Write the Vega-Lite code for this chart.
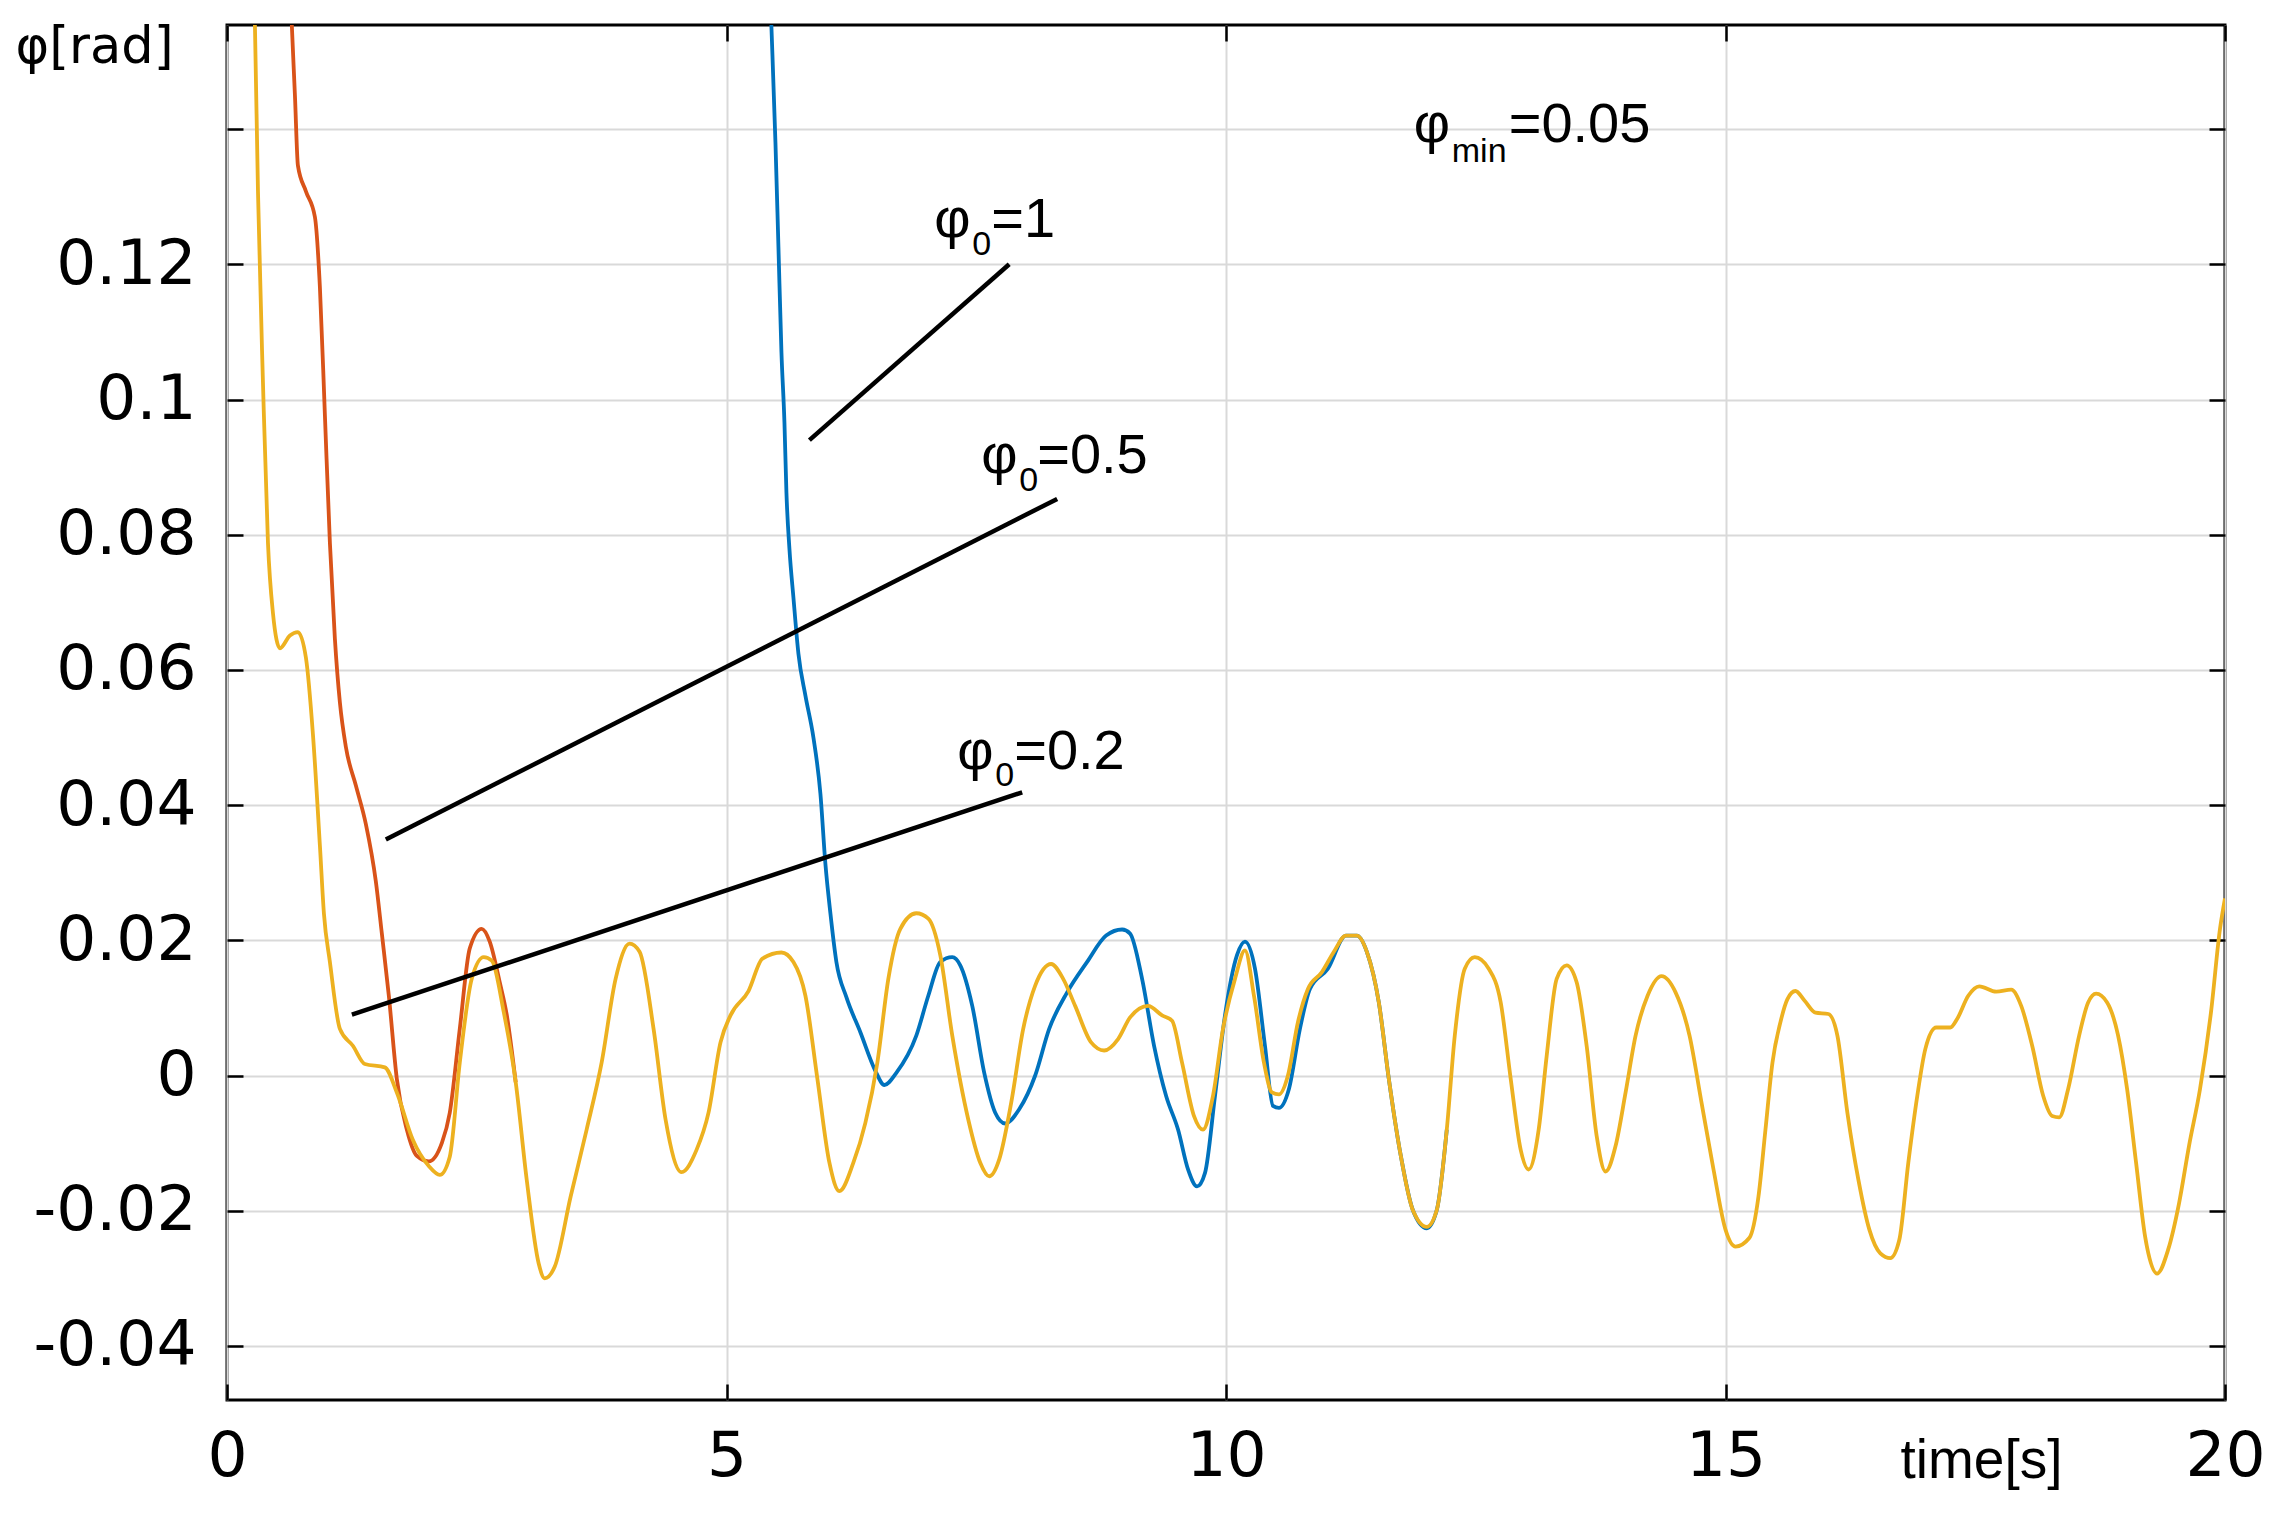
{
  "$schema": "https://vega.github.io/schema/vega-lite/v6.json",
  "width": 1998,
  "height": 1375,
  "autosize": "none",
  "padding": {"left": 227, "top": 25, "right": 58, "bottom": 114},
  "config": {
    "view": {"stroke": "black", "strokeWidth": 3},
    "axis": {"domain": false, "tickColor": "black", "tickWidth": 2.5, "tickSize": -16}
  },
  "datasets": {
    "runs": [
      {"run": "1", "t": 5.40, "phi": 0.175}, {"run": "1", "t": 5.45, "phi": 0.155}, {"run": "1", "t": 5.49, "phi": 0.138},
      {"run": "1", "t": 5.52, "phi": 0.1225}, {"run": "1", "t": 5.55, "phi": 0.107}, {"run": "1", "t": 5.58, "phi": 0.0966},
      {"run": "1", "t": 5.60, "phi": 0.0862}, {"run": "1", "t": 5.63, "phi": 0.0779}, {"run": "1", "t": 5.67, "phi": 0.0707},
      {"run": "1", "t": 5.72, "phi": 0.0624}, {"run": "1", "t": 5.79, "phi": 0.0562}, {"run": "1", "t": 5.87, "phi": 0.050},
      {"run": "1", "t": 5.94, "phi": 0.0417}, {"run": "1", "t": 5.99, "phi": 0.0313}, {"run": "1", "t": 6.04, "phi": 0.024},
      {"run": "1", "t": 6.10, "phi": 0.0168}, {"run": "1", "t": 6.20, "phi": 0.0116}, {"run": "1", "t": 6.34, "phi": 0.0064},
      {"run": "1", "t": 6.49, "phi": 0.0007}, {"run": "1", "t": 6.58, "phi": -0.0014}, {"run": "1", "t": 6.70, "phi": 0.0004},
      {"run": "1", "t": 6.90, "phi": 0.0059}, {"run": "1", "t": 7.02, "phi": 0.0118}, {"run": "1", "t": 7.14, "phi": 0.0168},
      {"run": "1", "t": 7.26, "phi": 0.0175}, {"run": "1", "t": 7.34, "phi": 0.0163}, {"run": "1", "t": 7.46, "phi": 0.0103},
      {"run": "1", "t": 7.58, "phi": 0.0004}, {"run": "1", "t": 7.69, "phi": -0.0055}, {"run": "1", "t": 7.79, "phi": -0.0071},
      {"run": "1", "t": 7.93, "phi": -0.005}, {"run": "1", "t": 8.09, "phi": 0.0}, {"run": "1", "t": 8.23, "phi": 0.0069},
      {"run": "1", "t": 8.41, "phi": 0.0123}, {"run": "1", "t": 8.61, "phi": 0.0168}, {"run": "1", "t": 8.80, "phi": 0.0207},
      {"run": "1", "t": 8.96, "phi": 0.0216}, {"run": "1", "t": 9.04, "phi": 0.021}, {"run": "1", "t": 9.16, "phi": 0.0143},
      {"run": "1", "t": 9.28, "phi": 0.0044}, {"run": "1", "t": 9.40, "phi": -0.003}, {"run": "1", "t": 9.52, "phi": -0.008},
      {"run": "1", "t": 9.62, "phi": -0.0139}, {"run": "1", "t": 9.71, "phi": -0.0164}, {"run": "1", "t": 9.79, "phi": -0.0144},
      {"run": "1", "t": 9.89, "phi": -0.003}, {"run": "1", "t": 9.99, "phi": 0.0089}, {"run": "1", "t": 10.11, "phi": 0.0178},
      {"run": "1", "t": 10.19, "phi": 0.0198}, {"run": "1", "t": 10.29, "phi": 0.0158}, {"run": "1", "t": 10.39, "phi": 0.0044},
      {"run": "1", "t": 10.47, "phi": -0.0045}, {"run": "1", "t": 10.53, "phi": -0.0048}, {"run": "1", "t": 10.63, "phi": -0.002},
      {"run": "1", "t": 10.74, "phi": 0.0069}, {"run": "1", "t": 10.84, "phi": 0.0128}, {"run": "1", "t": 11.02, "phi": 0.0158},
      {"run": "1", "t": 11.20, "phi": 0.0207}, {"run": "1", "t": 11.31, "phi": 0.0207}, {"run": "1", "t": 11.41, "phi": 0.0183},
      {"run": "1", "t": 11.53, "phi": 0.0108}, {"run": "1", "t": 11.63, "phi": -0.0005}, {"run": "1", "t": 11.75, "phi": -0.0119},
      {"run": "1", "t": 11.87, "phi": -0.0199}, {"run": "1", "t": 12.01, "phi": -0.0226}, {"run": "1", "t": 12.11, "phi": -0.0199},
      {"run": "1", "t": 12.21, "phi": -0.008},

      {"run": "0.5", "t": 0.60, "phi": 0.175}, {"run": "0.5", "t": 0.65, "phi": 0.155}, {"run": "0.5", "t": 0.68, "phi": 0.145},
      {"run": "0.5", "t": 0.71, "phi": 0.1346}, {"run": "0.5", "t": 0.79, "phi": 0.1308}, {"run": "0.5", "t": 0.88, "phi": 0.127},
      {"run": "0.5", "t": 0.93, "phi": 0.1166}, {"run": "0.5", "t": 0.98, "phi": 0.0977}, {"run": "0.5", "t": 1.03, "phi": 0.0788},
      {"run": "0.5", "t": 1.08, "phi": 0.0646}, {"run": "0.5", "t": 1.13, "phi": 0.0552}, {"run": "0.5", "t": 1.19, "phi": 0.0486},
      {"run": "0.5", "t": 1.29, "phi": 0.0429}, {"run": "0.5", "t": 1.39, "phi": 0.0372}, {"run": "0.5", "t": 1.49, "phi": 0.0287},
      {"run": "0.5", "t": 1.55, "phi": 0.021}, {"run": "0.5", "t": 1.62, "phi": 0.0118}, {"run": "0.5", "t": 1.70, "phi": -0.0005},
      {"run": "0.5", "t": 1.80, "phi": -0.008}, {"run": "0.5", "t": 1.90, "phi": -0.0119}, {"run": "0.5", "t": 2.02, "phi": -0.0127},
      {"run": "0.5", "t": 2.15, "phi": -0.010}, {"run": "0.5", "t": 2.23, "phi": -0.0055}, {"run": "0.5", "t": 2.33, "phi": 0.0069},
      {"run": "0.5", "t": 2.43, "phi": 0.0188}, {"run": "0.5", "t": 2.55, "phi": 0.0217}, {"run": "0.5", "t": 2.63, "phi": 0.0198},
      {"run": "0.5", "t": 2.73, "phi": 0.0138}, {"run": "0.5", "t": 2.80, "phi": 0.009}, {"run": "0.5", "t": 2.89, "phi": -0.001},

      {"run": "0.2", "t": 0.24, "phi": 0.175}, {"run": "0.2", "t": 0.28, "phi": 0.155}, {"run": "0.2", "t": 0.31, "phi": 0.1308},
      {"run": "0.2", "t": 0.36, "phi": 0.1025}, {"run": "0.2", "t": 0.41, "phi": 0.0788}, {"run": "0.2", "t": 0.46, "phi": 0.0684},
      {"run": "0.2", "t": 0.53, "phi": 0.0632}, {"run": "0.2", "t": 0.63, "phi": 0.0651}, {"run": "0.2", "t": 0.71, "phi": 0.0656},
      {"run": "0.2", "t": 0.79, "phi": 0.0618}, {"run": "0.2", "t": 0.86, "phi": 0.0505}, {"run": "0.2", "t": 0.93, "phi": 0.034},
      {"run": "0.2", "t": 0.97, "phi": 0.024}, {"run": "0.2", "t": 1.03, "phi": 0.0168}, {"run": "0.2", "t": 1.13, "phi": 0.0069},
      {"run": "0.2", "t": 1.26, "phi": 0.0044}, {"run": "0.2", "t": 1.38, "phi": 0.0017}, {"run": "0.2", "t": 1.58, "phi": 0.0012},
      {"run": "0.2", "t": 1.70, "phi": -0.0025}, {"run": "0.2", "t": 1.86, "phi": -0.0095}, {"run": "0.2", "t": 2.02, "phi": -0.0134},
      {"run": "0.2", "t": 2.13, "phi": -0.0147}, {"run": "0.2", "t": 2.23, "phi": -0.012}, {"run": "0.2", "t": 2.33, "phi": 0.0019},
      {"run": "0.2", "t": 2.45, "phi": 0.0143}, {"run": "0.2", "t": 2.57, "phi": 0.0175}, {"run": "0.2", "t": 2.65, "phi": 0.017},
      {"run": "0.2", "t": 2.77, "phi": 0.0094}, {"run": "0.2", "t": 2.89, "phi": -0.001}, {"run": "0.2", "t": 3.00, "phi": -0.0154},
      {"run": "0.2", "t": 3.12, "phi": -0.0278}, {"run": "0.2", "t": 3.18, "phi": -0.030}, {"run": "0.2", "t": 3.28, "phi": -0.0283},
      {"run": "0.2", "t": 3.44, "phi": -0.0179}, {"run": "0.2", "t": 3.60, "phi": -0.008}, {"run": "0.2", "t": 3.75, "phi": 0.0019},
      {"run": "0.2", "t": 3.89, "phi": 0.0143}, {"run": "0.2", "t": 4.03, "phi": 0.0195}, {"run": "0.2", "t": 4.13, "phi": 0.0183},
      {"run": "0.2", "t": 4.27, "phi": 0.0069}, {"run": "0.2", "t": 4.39, "phi": -0.0065}, {"run": "0.2", "t": 4.55, "phi": -0.0143},
      {"run": "0.2", "t": 4.70, "phi": -0.011}, {"run": "0.2", "t": 4.82, "phi": -0.0055}, {"run": "0.2", "t": 4.94, "phi": 0.0049},
      {"run": "0.2", "t": 5.04, "phi": 0.0089}, {"run": "0.2", "t": 5.22, "phi": 0.0125}, {"run": "0.2", "t": 5.36, "phi": 0.0173},
      {"run": "0.2", "t": 5.55, "phi": 0.0182}, {"run": "0.2", "t": 5.67, "phi": 0.0168}, {"run": "0.2", "t": 5.79, "phi": 0.0118},
      {"run": "0.2", "t": 5.91, "phi": -0.0005}, {"run": "0.2", "t": 6.03, "phi": -0.0129}, {"run": "0.2", "t": 6.13, "phi": -0.0171},
      {"run": "0.2", "t": 6.27, "phi": -0.0129}, {"run": "0.2", "t": 6.39, "phi": -0.007}, {"run": "0.2", "t": 6.51, "phi": 0.0019},
      {"run": "0.2", "t": 6.62, "phi": 0.0143}, {"run": "0.2", "t": 6.74, "phi": 0.0217}, {"run": "0.2", "t": 6.90, "phi": 0.024},
      {"run": "0.2", "t": 7.02, "phi": 0.0232}, {"run": "0.2", "t": 7.14, "phi": 0.0178}, {"run": "0.2", "t": 7.26, "phi": 0.0059},
      {"run": "0.2", "t": 7.42, "phi": -0.0065}, {"run": "0.2", "t": 7.54, "phi": -0.0129}, {"run": "0.2", "t": 7.63, "phi": -0.0149},
      {"run": "0.2", "t": 7.73, "phi": -0.0124}, {"run": "0.2", "t": 7.85, "phi": -0.004}, {"run": "0.2", "t": 7.97, "phi": 0.0069},
      {"run": "0.2", "t": 8.09, "phi": 0.0133}, {"run": "0.2", "t": 8.25, "phi": 0.0165}, {"run": "0.2", "t": 8.37, "phi": 0.0143},
      {"run": "0.2", "t": 8.49, "phi": 0.0103}, {"run": "0.2", "t": 8.65, "phi": 0.0049}, {"run": "0.2", "t": 8.78, "phi": 0.0037},
      {"run": "0.2", "t": 8.92, "phi": 0.0054}, {"run": "0.2", "t": 9.04, "phi": 0.0086}, {"run": "0.2", "t": 9.22, "phi": 0.0103},
      {"run": "0.2", "t": 9.36, "phi": 0.0089}, {"run": "0.2", "t": 9.46, "phi": 0.0081}, {"run": "0.2", "t": 9.56, "phi": 0.0019},
      {"run": "0.2", "t": 9.68, "phi": -0.006}, {"run": "0.2", "t": 9.77, "phi": -0.008}, {"run": "0.2", "t": 9.87, "phi": -0.003},
      {"run": "0.2", "t": 9.97, "phi": 0.0069}, {"run": "0.2", "t": 10.09, "phi": 0.0143}, {"run": "0.2", "t": 10.19, "phi": 0.0185},
      {"run": "0.2", "t": 10.28, "phi": 0.0118}, {"run": "0.2", "t": 10.38, "phi": 0.0019}, {"run": "0.2", "t": 10.46, "phi": -0.0025},
      {"run": "0.2", "t": 10.53, "phi": -0.0028}, {"run": "0.2", "t": 10.62, "phi": 0.0}, {"run": "0.2", "t": 10.72, "phi": 0.0079},
      {"run": "0.2", "t": 10.82, "phi": 0.0128}, {"run": "0.2", "t": 10.96, "phi": 0.0153}, {"run": "0.2", "t": 11.08, "phi": 0.0183},
      {"run": "0.2", "t": 11.20, "phi": 0.0207}, {"run": "0.2", "t": 11.31, "phi": 0.0207}, {"run": "0.2", "t": 11.41, "phi": 0.0183},
      {"run": "0.2", "t": 11.53, "phi": 0.0108}, {"run": "0.2", "t": 11.63, "phi": -0.0005}, {"run": "0.2", "t": 11.75, "phi": -0.0119},
      {"run": "0.2", "t": 11.87, "phi": -0.0199}, {"run": "0.2", "t": 12.01, "phi": -0.0224}, {"run": "0.2", "t": 12.11, "phi": -0.0199},
      {"run": "0.2", "t": 12.21, "phi": -0.008}, {"run": "0.2", "t": 12.29, "phi": 0.0059}, {"run": "0.2", "t": 12.39, "phi": 0.0158},
      {"run": "0.2", "t": 12.49, "phi": 0.0175}, {"run": "0.2", "t": 12.63, "phi": 0.0158}, {"run": "0.2", "t": 12.75, "phi": 0.0108},
      {"run": "0.2", "t": 12.85, "phi": -0.0005}, {"run": "0.2", "t": 12.95, "phi": -0.011}, {"run": "0.2", "t": 13.03, "phi": -0.0139},
      {"run": "0.2", "t": 13.13, "phi": -0.008}, {"run": "0.2", "t": 13.21, "phi": 0.0029}, {"run": "0.2", "t": 13.31, "phi": 0.0143},
      {"run": "0.2", "t": 13.41, "phi": 0.0163}, {"run": "0.2", "t": 13.51, "phi": 0.0138}, {"run": "0.2", "t": 13.61, "phi": 0.0044},
      {"run": "0.2", "t": 13.71, "phi": -0.0089}, {"run": "0.2", "t": 13.80, "phi": -0.0142}, {"run": "0.2", "t": 13.90, "phi": -0.0104},
      {"run": "0.2", "t": 14.00, "phi": -0.0025}, {"run": "0.2", "t": 14.10, "phi": 0.0059}, {"run": "0.2", "t": 14.22, "phi": 0.0118},
      {"run": "0.2", "t": 14.36, "phi": 0.0147}, {"run": "0.2", "t": 14.50, "phi": 0.0123}, {"run": "0.2", "t": 14.64, "phi": 0.0059},
      {"run": "0.2", "t": 14.76, "phi": -0.004}, {"run": "0.2", "t": 14.88, "phi": -0.0139}, {"run": "0.2", "t": 15.00, "phi": -0.0228},
      {"run": "0.2", "t": 15.10, "phi": -0.0253}, {"run": "0.2", "t": 15.24, "phi": -0.024}, {"run": "0.2", "t": 15.33, "phi": -0.0179},
      {"run": "0.2", "t": 15.40, "phi": -0.008}, {"run": "0.2", "t": 15.47, "phi": 0.0019}, {"run": "0.2", "t": 15.55, "phi": 0.0079},
      {"run": "0.2", "t": 15.62, "phi": 0.0113}, {"run": "0.2", "t": 15.70, "phi": 0.0125}, {"run": "0.2", "t": 15.79, "phi": 0.0111},
      {"run": "0.2", "t": 15.90, "phi": 0.0093}, {"run": "0.2", "t": 16.03, "phi": 0.0091}, {"run": "0.2", "t": 16.12, "phi": 0.0059},
      {"run": "0.2", "t": 16.22, "phi": -0.0055}, {"run": "0.2", "t": 16.33, "phi": -0.0154}, {"run": "0.2", "t": 16.44, "phi": -0.0228},
      {"run": "0.2", "t": 16.55, "phi": -0.0263}, {"run": "0.2", "t": 16.65, "phi": -0.027}, {"run": "0.2", "t": 16.74, "phi": -0.0243},
      {"run": "0.2", "t": 16.83, "phi": -0.0129}, {"run": "0.2", "t": 16.92, "phi": -0.003}, {"run": "0.2", "t": 17.00, "phi": 0.0039},
      {"run": "0.2", "t": 17.11, "phi": 0.0071}, {"run": "0.2", "t": 17.25, "phi": 0.0071}, {"run": "0.2", "t": 17.32, "phi": 0.0084},
      {"run": "0.2", "t": 17.43, "phi": 0.0118}, {"run": "0.2", "t": 17.54, "phi": 0.0132}, {"run": "0.2", "t": 17.71, "phi": 0.0124},
      {"run": "0.2", "t": 17.86, "phi": 0.0127}, {"run": "0.2", "t": 17.96, "phi": 0.0103}, {"run": "0.2", "t": 18.07, "phi": 0.0044},
      {"run": "0.2", "t": 18.18, "phi": -0.003}, {"run": "0.2", "t": 18.27, "phi": -0.006}, {"run": "0.2", "t": 18.34, "phi": -0.0062},
      {"run": "0.2", "t": 18.43, "phi": -0.002}, {"run": "0.2", "t": 18.54, "phi": 0.0059}, {"run": "0.2", "t": 18.63, "phi": 0.0108},
      {"run": "0.2", "t": 18.71, "phi": 0.0121}, {"run": "0.2", "t": 18.82, "phi": 0.0108}, {"run": "0.2", "t": 18.93, "phi": 0.0059},
      {"run": "0.2", "t": 19.02, "phi": -0.002}, {"run": "0.2", "t": 19.11, "phi": -0.0129}, {"run": "0.2", "t": 19.20, "phi": -0.0238},
      {"run": "0.2", "t": 19.32, "phi": -0.0293}, {"run": "0.2", "t": 19.43, "phi": -0.0258}, {"run": "0.2", "t": 19.54, "phi": -0.0189},
      {"run": "0.2", "t": 19.64, "phi": -0.0104}, {"run": "0.2", "t": 19.75, "phi": -0.002}, {"run": "0.2", "t": 19.86, "phi": 0.0094},
      {"run": "0.2", "t": 19.95, "phi": 0.0217}, {"run": "0.2", "t": 20.00, "phi": 0.0262}
    ],
    "pointers": [
      {"t": 5.83, "phi": 0.094, "t2": 7.83, "phi2": 0.120},
      {"t": 1.59, "phi": 0.0349, "t2": 8.31, "phi2": 0.0853},
      {"t": 1.25, "phi": 0.009, "t2": 7.96, "phi2": 0.0419}
    ],
    "labels": [
      {"t": 7.08, "phi": 0.124, "text": "φ"}, {"t": 7.65, "phi": 0.124, "text": "=1"},
      {"t": 7.55, "phi": 0.0891, "text": "φ"}, {"t": 8.11, "phi": 0.0891, "text": "=0.5"},
      {"t": 7.31, "phi": 0.0454, "text": "φ"}, {"t": 7.88, "phi": 0.0454, "text": "=0.2"},
      {"t": 11.88, "phi": 0.1381, "text": "φ"}, {"t": 12.83, "phi": 0.1381, "text": "=0.05"}
    ],
    "subs": [
      {"t": 7.46, "phi": 0.1214, "text": "0"},
      {"t": 7.93, "phi": 0.0865, "text": "0"},
      {"t": 7.69, "phi": 0.0428, "text": "0"},
      {"t": 12.26, "phi": 0.1352, "text": "min"}
    ]
  },
  "layer": [
    {
      "data": {"name": "pointers"},
      "mark": {"type": "rule", "opacity": 0},
      "encoding": {
        "x": {"field": "t", "type": "quantitative", "scale": {"domain": [0, 20], "nice": false},
              "axis": {"orient": "top", "values": [0, 5, 10, 15, 20], "labels": false, "grid": false, "title": null}},
        "y": {"field": "phi", "type": "quantitative", "scale": {"domain": [-0.048, 0.1554], "nice": false, "zero": false},
              "axis": {"orient": "right", "values": [-0.04, -0.02, 0, 0.02, 0.04, 0.06, 0.08, 0.1, 0.12, 0.14], "labels": false, "grid": false, "title": null}}
      }
    },
    {
      "data": {"name": "runs"},
      "transform": [{"filter": "datum.run == '1'"}],
      "mark": {"type": "line", "color": "#0072BD", "strokeWidth": 3.8, "clip": true, "interpolate": "monotone"},
      "encoding": {
        "x": {"field": "t", "type": "quantitative", "scale": {"domain": [0, 20], "nice": false},
              "axis": {"orient": "bottom", "values": [0, 5, 10, 15, 20], "grid": true, "gridColor": "#d9d9d9", "gridWidth": 2,
                       "labelFont": "DejaVu Sans", "labelFontSize": 63, "labelColor": "black", "labelPadding": 41, "labelFlush": false,
                       "title": "time[s]", "titleFont": "Liberation Sans", "titleFontSize": 55, "titleFontWeight": "normal", "titleColor": "black",
                       "titleAlign": "left", "titleBaseline": "middle", "titleX": 1673, "titleY": 60}},
        "y": {"field": "phi", "type": "quantitative", "scale": {"domain": [-0.048, 0.1554], "nice": false, "zero": false},
              "axis": {"orient": "left", "values": [-0.04, -0.02, 0, 0.02, 0.04, 0.06, 0.08, 0.1, 0.12, 0.14], "grid": true, "gridColor": "#d9d9d9", "gridWidth": 2,
                       "labelExpr": "datum.value > 0.13 ? '' : (datum.value < 0 ? '-' + format(-datum.value, '') : format(datum.value, ''))",
                       "labelFont": "DejaVu Sans", "labelFontSize": 63, "labelColor": "black", "labelPadding": 47,
                       "title": "φ[rad]", "titleFont": "DejaVu Sans", "titleFontSize": 51, "titleFontWeight": "normal", "titleColor": "black",
                       "titleAngle": 0, "titleAlign": "left", "titleBaseline": "middle", "titleX": -212, "titleY": 22}}
      }
    },
    {
      "data": {"name": "runs"},
      "transform": [{"filter": "datum.run == '0.5'"}],
      "mark": {"type": "line", "color": "#D95319", "strokeWidth": 3.8, "clip": true, "interpolate": "monotone"},
      "encoding": {
        "x": {"field": "t", "type": "quantitative", "axis": null},
        "y": {"field": "phi", "type": "quantitative", "axis": null}
      }
    },
    {
      "data": {"name": "runs"},
      "transform": [{"filter": "datum.run == '0.2'"}],
      "mark": {"type": "line", "color": "#EDB120", "strokeWidth": 3.8, "clip": true, "interpolate": "monotone"},
      "encoding": {
        "x": {"field": "t", "type": "quantitative", "axis": null},
        "y": {"field": "phi", "type": "quantitative", "axis": null}
      }
    },
    {
      "data": {"name": "pointers"},
      "mark": {"type": "rule", "color": "black", "strokeWidth": 4.5},
      "encoding": {
        "x": {"field": "t", "type": "quantitative", "axis": null},
        "y": {"field": "phi", "type": "quantitative", "axis": null},
        "x2": {"field": "t2"},
        "y2": {"field": "phi2"}
      }
    },
    {
      "data": {"name": "labels"},
      "mark": {"type": "text", "font": "Liberation Sans", "fontSize": 56, "color": "black", "align": "left", "baseline": "alphabetic"},
      "encoding": {
        "x": {"field": "t", "type": "quantitative", "axis": null},
        "y": {"field": "phi", "type": "quantitative", "axis": null},
        "text": {"field": "text"}
      }
    },
    {
      "data": {"name": "subs"},
      "mark": {"type": "text", "font": "Liberation Sans", "fontSize": 34, "color": "black", "align": "left", "baseline": "alphabetic"},
      "encoding": {
        "x": {"field": "t", "type": "quantitative", "axis": null},
        "y": {"field": "phi", "type": "quantitative", "axis": null},
        "text": {"field": "text"}
      }
    }
  ],
  "resolve": {"axis": {"x": "independent", "y": "independent"}}
}
